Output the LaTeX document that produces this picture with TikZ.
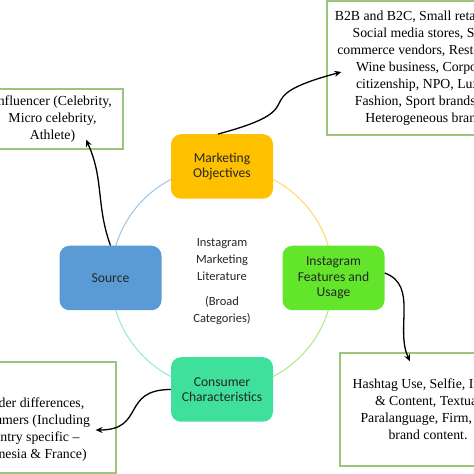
\documentclass[tikz,border=0pt]{standalone}
\usepackage{fontspec}
\setmainfont{Liberation Serif}
\newfontfamily\calibri{Carlito}
\usetikzlibrary{arrows.meta,positioning}

\definecolor{mktgorange}{HTML}{FFC000}
\definecolor{srcblue}{HTML}{5B9BD5}
\definecolor{featgreen}{HTML}{62E52B}
\definecolor{consteal}{HTML}{3FE09C}
\definecolor{ringblue}{HTML}{9DC3E6}
\definecolor{ringyellow}{HTML}{FFD966}
\definecolor{ringgreen}{HTML}{A9EC7F}
\definecolor{ringteal}{HTML}{94EBCB}
\definecolor{boxgreen}{HTML}{9CC47A}

\tikzset{
  cat/.style={rounded corners=10pt, minimum width=102pt, minimum height=64.5pt,
    align=center, text=black!85, font=\calibri\fontsize{13.6}{15.5}\selectfont},
  detail/.style={draw=boxgreen, line width=1.2pt, align=center,
    font=\fontsize{13.8}{17}\selectfont},
  link/.style={-{Stealth[length=7pt,width=6pt]}, line width=1.3pt},
  ring/.style={line width=1pt}
}

\begin{document}
\begin{tikzpicture}[x=1pt,y=1pt]
    \useasboundingbox (0,0) rectangle (474,474);
    \clip (0,0) rectangle (474,474);

    % Ring behind the categories
    \draw[ring,ringblue] (222,196) ++(180:111) arc[start angle=180,end angle=90,radius=111];
    \draw[ring,ringyellow] (222,196) ++(90:111) arc[start angle=90,end angle=0,radius=111];
    \draw[ring,ringgreen] (222,196) ++(0:111) arc[start angle=0,end angle=-90,radius=111];
    \draw[ring,ringteal] (222,196) ++(-90:111) arc[start angle=-90,end angle=-180,radius=111];

    % Categories
    \node[cat,fill=mktgorange] (mktg) at (222,307.5) {Marketing\\Objectives};
    \node[cat,fill=srcblue] (src) at (110.5,196) {Source};
    \node[cat,fill=featgreen] (feat) at (333.5,196) {Instagram\\Features and\\Usage};
    \node[cat,fill=consteal] (cons) at (222,84.5) {Consumer\\Characteristics};
    \node[align=center,text=black!85,font=\calibri\fontsize{12.5}{17}\selectfont] (lit) at (222,192)
        {Instagram\\Marketing\\Literature\\[8pt](Broad\\Categories)};

    % Detail boxes
    \node[detail,minimum width=200pt,minimum height=134pt] (sector) at (427,406)
        {B2B and B2C, Small retail firms,\\Social media stores, Social\\commerce vendors, Restaurants,\\Wine business, Corporate\\citizenship, NPO, Luxury\\Fashion, Sport brands and\\Heterogeneous brands};
    \node[detail,minimum width=141pt,minimum height=60pt] (infl) at (52.5,355)
        {Influencer (Celebrity,\\Micro celebrity,\\Athlete)};
    \node[detail,minimum width=176pt,minimum height=113pt] (hash) at (428,64.5)
        {Hashtag Use, Selfie, Image\\\& Content, Textual\\Paralanguage, Firm, and\\brand content.};
    \node[detail,minimum width=172pt,minimum height=111pt] (demo) at (30,56.5)
        {\mbox{}\\[16pt]Gender differences,\\consumers (Including\\country specific --\\Indonesia \& France)};

    % Arrow ends inside the boxes
    \coordinate (sector-in) at ([xshift=15pt,yshift=-4pt]sector.west);
    \coordinate (infl-in) at ([xshift=33.5pt,yshift=10pt]infl.south);
    \coordinate (hash-in) at ([xshift=-18pt,yshift=-9pt]hash.north);
    \coordinate (demo-in) at ([xshift=-21pt,yshift=-12.5pt]demo.east);

    % Links
    \draw[link] ([xshift=-4pt]mktg.north) to[out=15,in=195,looseness=2] (sector-in);
    \draw[link] (src.north) to[out=110,in=-65] (infl-in);
    \draw[link] ([yshift=5pt]feat.east) to[out=-20,in=115] (hash-in);
    \draw[link] (cons.west) to[out=180,in=0,looseness=1.5] (demo-in);
\end{tikzpicture}
\end{document}
